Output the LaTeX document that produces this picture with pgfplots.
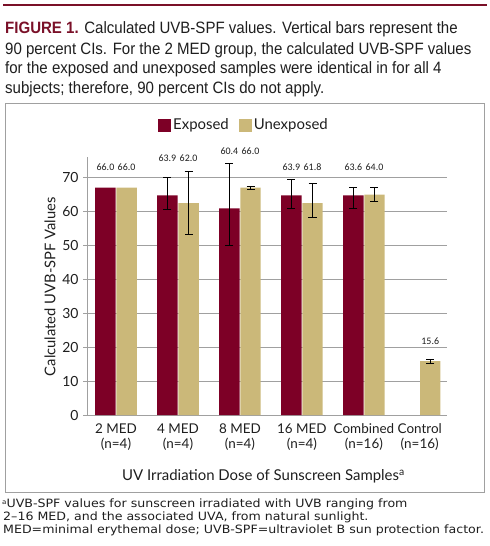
\documentclass[border=0pt]{standalone}
\usepackage{fontspec}
\usepackage{pgfplots}
\usepackage{pgfplotstable}
\pgfplotsset{compat=1.18}
\setmainfont{Lato}
\newfontfamily\capfont[FakeStretch=0.915]{Liberation Sans}
\newfontfamily\notefont[FakeStretch=1.1]{DejaVu Sans}
\newfontfamily\labfont{Carlito}
\definecolor{maroon}{RGB}{125,0,38}
\definecolor{tanc}{RGB}{203,184,121}
\definecolor{figred}{RGB}{122,16,40}
\definecolor{gridgray}{RGB}{160,160,160}
\definecolor{txt}{RGB}{30,30,30}

\pgfplotstableread{
x y
0 67.0
1 64.7
2 60.9
3 64.7
4 64.7
}\exposed
\pgfplotstableread{
x y
0 67.0
1 62.4
2 67.0
3 62.4
4 64.9
4.9 15.9
}\unexposed
% error bars: x y plus minus
\pgfplotstableread{
x y ep em
1 64.7 5.2 4.2
2 60.9 13.1 11.0
3 64.7 4.8 4.0
4 64.7 2.3 4.0
}\exposederr
\pgfplotstableread{
x y ep em
1 62.4 9.3 9.3
2 67.0 0.2 0.5
3 62.4 5.7 4.3
4 64.9 2.1 2.0
4.9 15.9 0.5 0.6
}\unexposederr

\begin{document}
\begin{tikzpicture}
\path[use as bounding box] (0,0) rectangle (490bp,-546bp);
\draw[figred, line width=1.5bp] (3bp,-5bp) -- (487bp,-5bp);
\draw[gridgray, line width=1bp] (5bp,-103bp) rectangle (484bp,-492bp);
\begin{scope}[every node/.style={anchor=base west, inner sep=0pt, font=\capfont\fontsize{16.5}{20}\selectfont, text=txt}]
\node at (5bp,-33.3bp) {\textcolor{figred}{\textbf{FIGURE 1.}} Calculated UVB-SPF values. Vertical bars represent the};
\node at (5bp,-54bp) {90 percent CIs. For the 2 MED group, the calculated UVB-SPF values};
\node at (5bp,-73.5bp) {for the exposed and unexposed samples were identical in for all 4};
\node at (5bp,-93bp) {subjects; therefore, 90 percent CIs do not apply.};
\end{scope}
\begin{scope}[every node/.style={anchor=base west, inner sep=0pt, font=\notefont\fontsize{11.5}{13}\selectfont, text=txt}]
\node at (2bp,-507bp) {\raisebox{0.45ex}{\fontsize{6.5}{7}\selectfont a}UVB-SPF values for sunscreen irradiated with UVB ranging from};
\node at (3bp,-520bp) {2–16 MED, and the associated UVA, from natural sunlight.};
\node at (3bp,-533bp) {MED=minimal erythemal dose; UVB-SPF=ultraviolet B sun protection factor.};
\end{scope}
\begin{axis}[
  at={(87bp,-415bp)}, anchor=south west,
  scale only axis, width=360bp, height=258bp,
  xmin=-0.468, xmax=5.34, ymin=0, ymax=76,
  ybar, bar width=0.33,
  axis lines*=left,
  axis line style={gridgray, line width=1bp},
  ymajorgrids, grid style={gridgray, line width=1bp},
  ytick={0,10,...,70},
  xtick={0,1,2,3,4,4.9},
  xticklabels={{2 MED\\(n=4)},{4 MED\\(n=4)},{8 MED\\(n=4)},{16 MED\\(n=4)},{Combined\\(n=16)},{Control\\(n=16)}},
  xtick style={draw=none},
  ytick style={gridgray, line width=1bp},
  tick align=outside, major tick length=4bp,
  yticklabel style={font=\fontsize{14}{16}\selectfont, text=txt, xshift=-1bp},
  xticklabel style={align=center, font=\fontsize{13.5}{15}\selectfont, text=txt, yshift=-1bp},
  /pgf/number format/assume math mode=true,
  ylabel={Calculated UVB-SPF Values},
  ylabel style={at={(axis description cs:-0.103,0.497)}, anchor=center, font=\fontsize{14.8}{16}\selectfont, text=txt},
  xlabel={UV Irradiation Dose of Sunscreen Samples\textsuperscript{a}},
  xlabel style={at={(axis description cs:0.49,-0.239)}, anchor=center, font=\fontsize{15}{17}\selectfont, text=txt},
  clip=false,
  legend columns=2,
  legend style={at={(0.436,1.124)}, anchor=center, draw=none, fill=none, font=\fontsize{15}{17}\selectfont, text=txt,
    /tikz/every even column/.append style={column sep=8bp}},
  legend image code/.code={\fill[#1] (0bp,-6.5bp) rectangle (13bp,6.5bp);},
]
\addplot[fill=maroon, draw=none, bar shift=-0.17] table[x=x,y=y] {\exposed};
\addlegendentry{Exposed}
\addplot[fill=tanc, draw=none, bar shift=0.17] table[x=x,y=y] {\unexposed};
\addlegendentry{Unexposed}
\addplot[forget plot, draw=none, fill=none, bar shift=-0.17,
  error bars/.cd, y dir=both, y explicit,
  error bar style={draw=black, line width=1bp},
  error mark options={draw=black, rotate=90, mark size=4bp, line width=1bp}]
  table[x=x,y=y,y error plus=ep,y error minus=em] {\exposederr};
\addplot[forget plot, draw=none, fill=none, bar shift=0.17,
  error bars/.cd, y dir=both, y explicit,
  error bar style={draw=black, line width=1bp},
  error mark options={draw=black, rotate=90, mark size=4bp, line width=1bp}]
  table[x=x,y=y,y error plus=ep,y error minus=em] {\unexposederr};
\begin{scope}[every node/.style={font=\labfont\fontsize{10}{12}\selectfont, text=txt, inner sep=0pt}]
\node at (axis cs:-0.17,72.9) {66.0};
\node at (axis cs:0.17,72.9) {66.0};
\node at (axis cs:0.83,75.7) {63.9};
\node at (axis cs:1.17,75.7) {62.0};
\node at (axis cs:1.83,77.6) {60.4};
\node at (axis cs:2.17,77.6) {66.0};
\node at (axis cs:2.83,72.9) {63.9};
\node at (axis cs:3.17,72.9) {61.8};
\node at (axis cs:3.83,72.9) {63.6};
\node at (axis cs:4.17,72.9) {64.0};
\node at (axis cs:5.07,21.7) {15.6};
\end{scope}
\end{axis}
\end{tikzpicture}
\end{document}
